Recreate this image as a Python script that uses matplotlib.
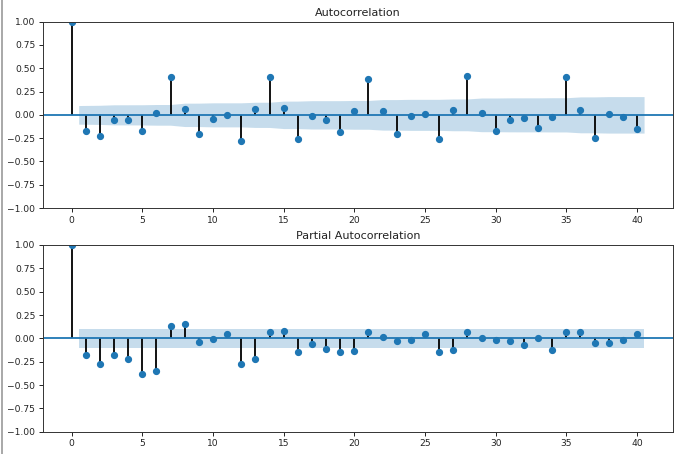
import numpy as np
import matplotlib
matplotlib.use("Agg")
import matplotlib.pyplot as plt
from matplotlib.lines import Line2D

lags = list(range(0, 41))
acf_values = [1.00, -0.17, -0.23, -0.05, -0.06, -0.17, 0.025, 0.41, 0.06, -0.21,
              -0.04, 0.00, -0.28, 0.06, 0.41, 0.07, -0.26, -0.01, -0.05, -0.18,
              0.04, 0.385, 0.04, -0.21, -0.01, 0.01, -0.26, 0.05, 0.42, 0.02,
              -0.17, -0.05, -0.03, -0.14, -0.02, 0.41, 0.05, -0.245, 0.01, -0.02,
              -0.155]
pacf_values = [1.00, -0.18, -0.28, -0.18, -0.22, -0.38, -0.35, 0.13, 0.15, -0.036,
               -0.007, 0.043, -0.28, -0.22, 0.07, 0.08, -0.15, -0.064, -0.11, -0.15,
               -0.14, 0.07, 0.018, -0.03, -0.018, 0.05, -0.15, -0.13, 0.07, 0.0,
               -0.014, -0.03, -0.075, 0.004, -0.13, 0.07, 0.07, -0.046, -0.046, -0.018,
               0.043]
n_obs = 384
titles = ["Autocorrelation", "Partial Autocorrelation"]
yticks = [-1.0, -0.75, -0.5, -0.25, 0.0, 0.25, 0.5, 0.75, 1.0]
xticks = [0, 5, 10, 15, 20, 25, 30, 35, 40]

fig = plt.figure(figsize=(6.8, 4.54), dpi=100)
W, H = 680, 454
ax1 = fig.add_axes([43 / W, 1 - 208 / H, (672.7 - 43) / W, (208 - 21.7) / H])
ax2 = fig.add_axes([43 / W, 1 - 431.7 / H, (672.7 - 43) / W, (431.7 - 245) / H])

def acf_band(vals, n):
    r = np.asarray(vals)
    var = np.ones(len(r)) / n
    var[0] = 0
    var[2:] *= 1 + 2 * np.cumsum(r[1:-1] ** 2)
    return 1.96 * np.sqrt(var)

def pacf_band(vals, n):
    b = np.full(len(vals), 1.96 / np.sqrt(n))
    b[0] = 0
    return b

bands = [acf_band(acf_values, n_obs), pacf_band(pacf_values, n_obs)]

for ax, vals, band, title in zip([ax1, ax2], [acf_values, pacf_values], bands, titles):
    ax.vlines(lags, 0, vals, colors="black", linewidth=1.3)
    ax.plot(lags, vals, marker="o", markersize=4.2, linestyle="None", color="#1f77b4")
    ax.axhline(0, color="#1f77b4", linewidth=1.3)
    x = np.array(lags[1:], dtype=float)
    x[0] -= 0.5
    x[-1] += 0.5
    ax.fill_between(x, -band[1:], band[1:], color="#1f77b4", alpha=0.25, linewidth=0)
    ax.set_ylim(-1.0, 1.0)
    ax.set_xlim(-2.025, 42.525)
    ax.set_yticks(yticks)
    ax.set_yticklabels([f"{v:.2f}".replace("-", "\u2212") for v in yticks])
    ax.set_xticks(xticks)
    ax.tick_params(labelsize=6.6, length=3, width=0.7, pad=2.5, colors="#222222")
    for s in ax.spines.values():
        s.set_linewidth(0.7)
        s.set_color("#333333")
    ax.set_title(title, fontsize=8.0, pad=4, color="#222222")

fig.add_artist(Line2D([1.5 / W, 1.5 / W], [0, 1], color="#999999", linewidth=1.2))

fig.savefig("out.png", dpi=100)
